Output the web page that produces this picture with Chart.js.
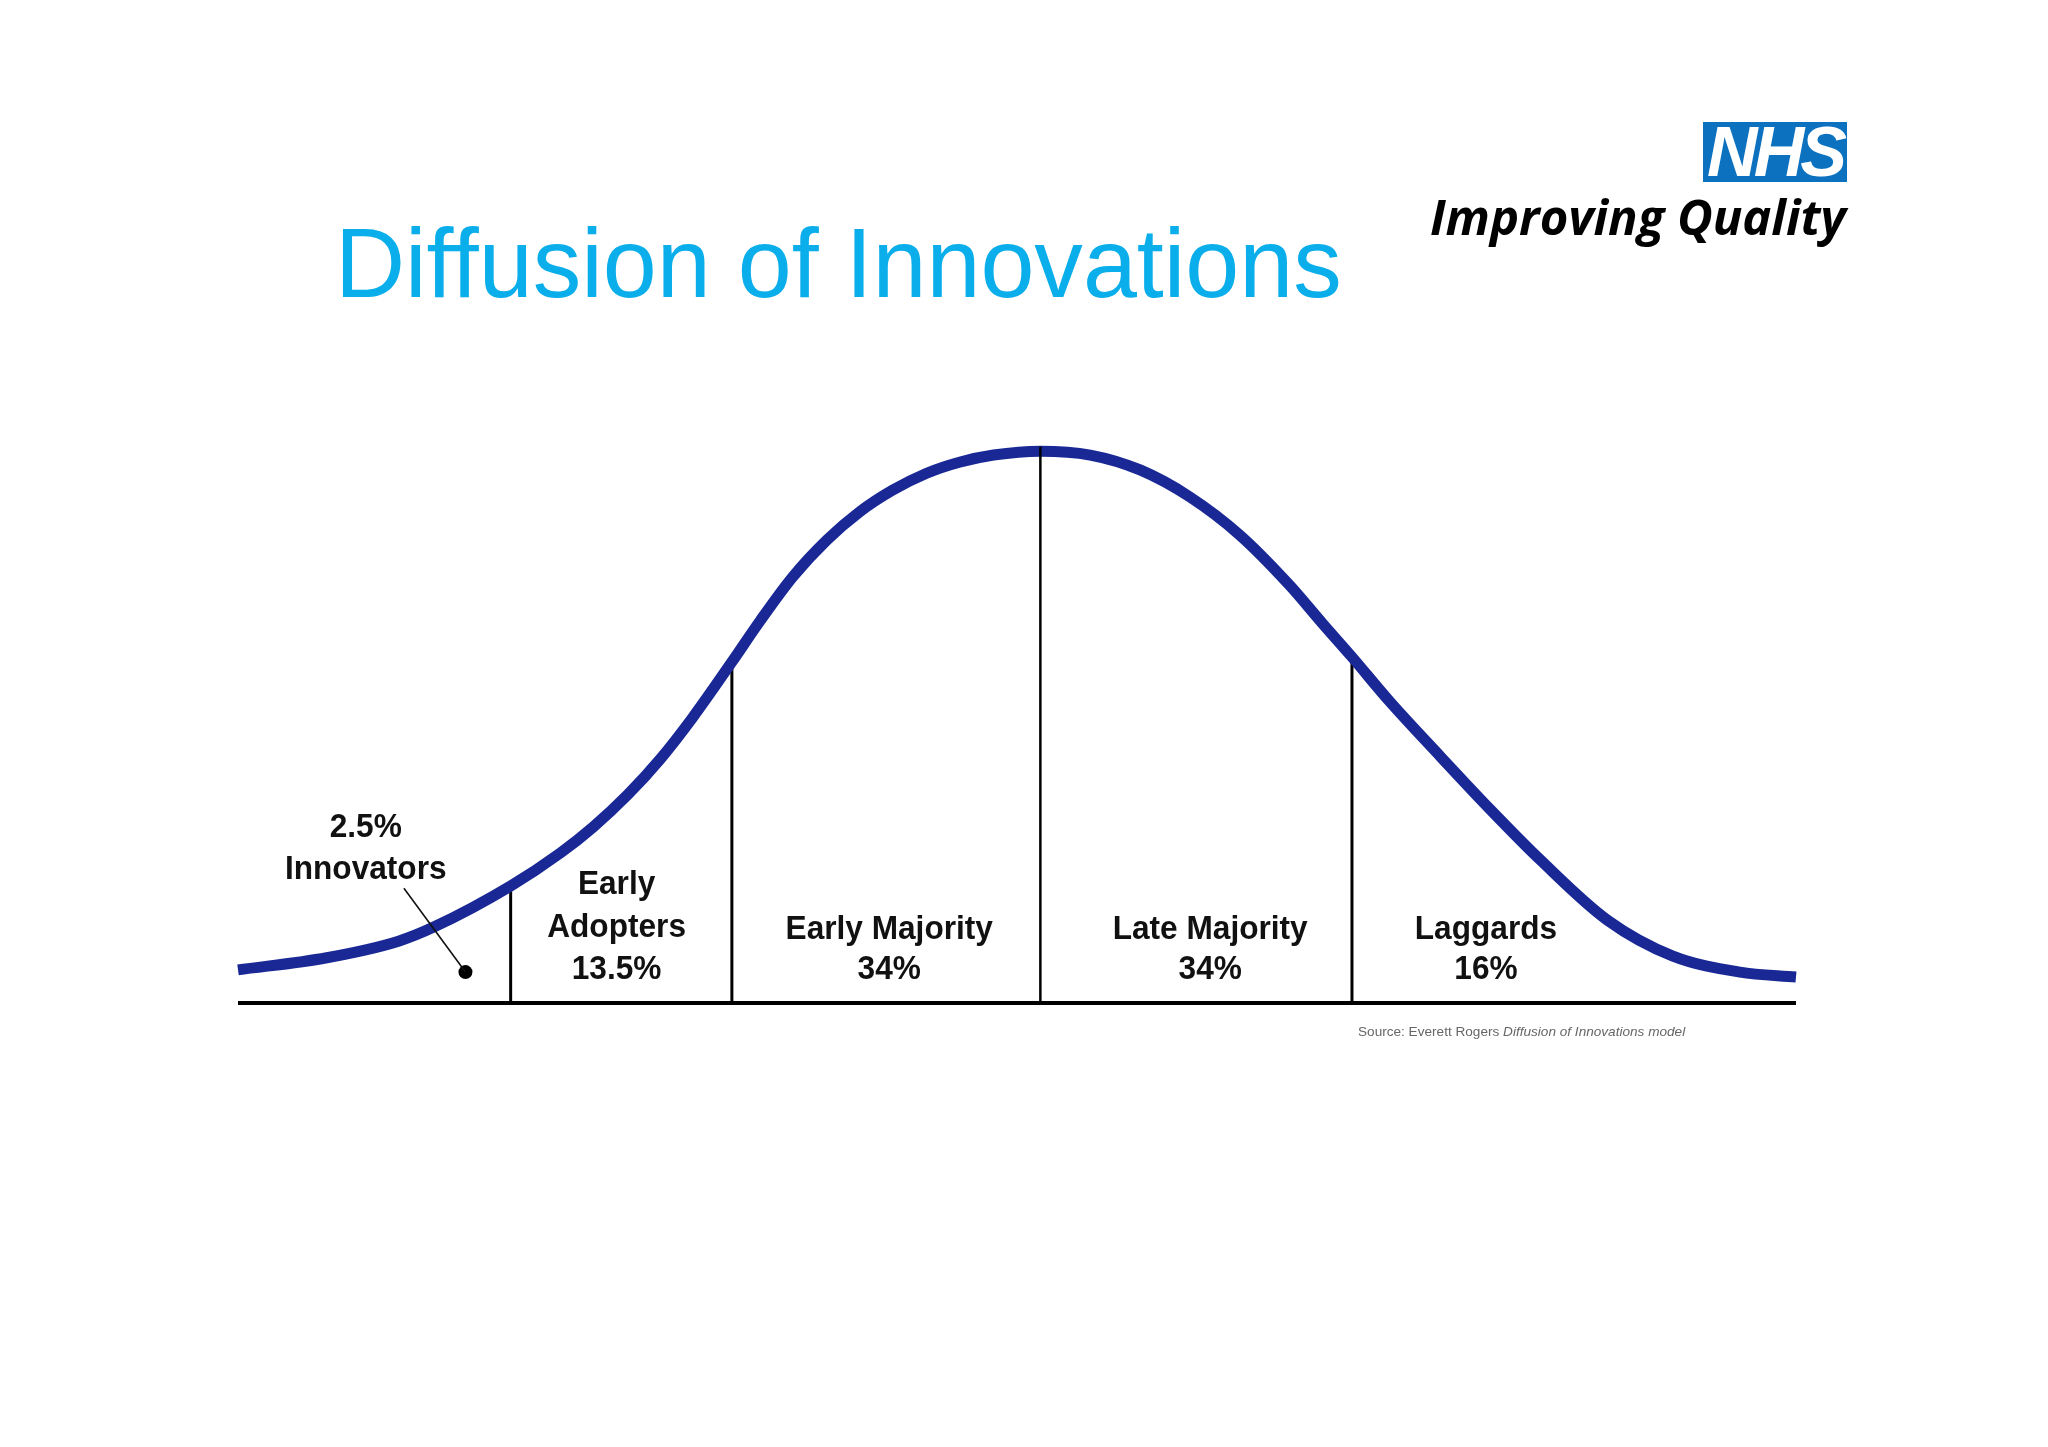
<!DOCTYPE html>
<html>
<head>
<meta charset="utf-8">
<script src="https://cdn.jsdelivr.net/npm/chart.js@4.4.1/dist/chart.umd.min.js"></script>
<style>
  html, body { margin: 0; padding: 0; background: #ffffff; }
  body { width: 2048px; height: 1447px; position: relative; overflow: hidden; }
  #chart { position: absolute; left: 0; top: 0; }
  .title { position: absolute; left: 335px; top: 213px; font-family: "Liberation Sans", Arial, sans-serif;
           font-size: 99px; line-height: 99px; color: #0AAEEA; white-space: nowrap;
           transform: scaleX(0.98); transform-origin: left top; }
  .nhs { position: absolute; left: 1703px; top: 122px; width: 144px; height: 60px; background: #0C72C0;
         color: #fff; font-family: "Liberation Sans", Arial, sans-serif; font-weight: bold; font-style: italic;
         font-size: 70px; line-height: 60px; text-align: center; letter-spacing: -4px; overflow: hidden; }
  .iq { position: absolute; right: 202px; top: 192px; font-family: "Open Sans", sans-serif; font-weight: bold;
        font-style: italic; font-size: 49px; line-height: 49px; color: #000; white-space: nowrap; }
  .src { position: absolute; left: 1358px; top: 1024px; font-family: "Liberation Sans", Arial, sans-serif;
         font-size: 13.6px; line-height: 15px; color: #666; white-space: nowrap; }
</style>
</head>
<body>
<canvas id="chart" width="2048" height="1447"></canvas>
<div class="title">Diffusion of Innovations</div>
<div class="nhs">NHS</div>
<div class="iq">Improving Quality</div>
<div class="src">Source: Everett Rogers <i>Diffusion of Innovations model</i></div>
<script>
// ---- Data ----
// Adoption curve: x = position along adoption timeline (0-100), y = relative height (peak = 100)
const curveX = [0, 5.7, 10.3, 12.6, 17.5, 20.7, 22.8, 25.0, 27.1, 29.2, 31.7, 33.5, 35.6, 37.8, 39.9, 42.0, 44.2, 46.3, 48.5, 51.5,
                54.7, 57.9, 61.1, 64.3, 67.5, 69.6, 71.5, 73.9, 77.2, 80.4, 83.6, 87.9, 92.1, 96.4, 100];
const curveY = [6.0, 8.2, 11.2, 13.8, 21.2, 27.2, 31.9, 37.7, 44.2, 51.8, 61.8, 69.2, 77.2, 83.9, 89.0, 92.9, 96.0, 98.0, 99.3, 100,
                99.3, 96.6, 91.7, 84.8, 75.7, 68.8, 62.7, 54.7, 44.6, 35.0, 25.9, 15.0, 8.5, 5.6, 4.7];

// Adopter categories and their shares (%)
const categories = ["Innovators", "Early Adopters", "Early Majority", "Late Majority", "Laggards"];
const shares = [2.5, 13.5, 34, 34, 16];

// Category boundaries on the timeline and the curve height at each boundary
const dividerX = [17.5, 31.7, 51.5, 71.5];
const dividerTop = [21.6, 61.8, 100.8, 62.5];

// Innovators pointer: dot and start of leader line
const innovatorDot = [14.6, 5.6];
const innovatorLeader = [10.65, 20.8];

const xRange = [0, 100];
const yRange = [0, 110];

// ---- Label placement (category index -> anchor on the scales) ----
const labelAnchors = [
  { x: 8.2, lines: [[shares[0] + "%", 31.7], [categories[0], 24.1]] },
  { x: 24.3, lines: [["Early", 21.4], ["Adopters", 13.6], [shares[1] + "%", 6.0]] },
  { x: 41.8, lines: [[categories[2], 13.3], [shares[2] + "%", 6.0]] },
  { x: 62.4, lines: [[categories[3], 13.3], [shares[3] + "%", 6.0]] },
  { x: 80.1, lines: [[categories[4], 13.3], [shares[4] + "%", 6.0]] }
];

const curveData = curveX.map((x, i) => ({ x: x, y: curveY[i] }));

const datasets = [];
datasets.push({
  label: "Adoption curve",
  data: curveData,
  borderColor: "#1A2896",
  borderWidth: 11,
  pointRadius: 0,
  cubicInterpolationMode: "monotone",
  showLine: true,
  fill: false,
  clip: false,
  order: 2
});
datasets.push({
  label: "Baseline",
  data: [{ x: xRange[0], y: 0 }, { x: xRange[1], y: 0 }],
  borderColor: "#000",
  borderWidth: 4,
  pointRadius: 0,
  showLine: true,
  clip: false,
  order: 1
});
dividerX.forEach((dx, i) => {
  datasets.push({
    label: "Divider " + (i + 1),
    data: [{ x: dx, y: 0 }, { x: dx, y: dividerTop[i] }],
    borderColor: "#000",
    borderWidth: i === 2 ? 2.5 : 3,
    pointRadius: 0,
    showLine: true,
    clip: false,
    order: i === 2 ? 1 : 3
  });
});
datasets.push({
  label: "Leader",
  data: [{ x: innovatorLeader[0], y: innovatorLeader[1] }, { x: innovatorDot[0], y: innovatorDot[1] }],
  borderColor: "#111",
  borderWidth: 1.6,
  pointRadius: 0,
  showLine: true,
  clip: false,
  order: 1
});
datasets.push({
  label: "Dot",
  data: [{ x: innovatorDot[0], y: innovatorDot[1] }],
  borderColor: "#000",
  backgroundColor: "#000",
  pointRadius: 7,
  pointBorderWidth: 0,
  showLine: false,
  clip: false,
  order: 1
});

const labelPlugin = {
  id: "categoryLabels",
  afterDatasetsDraw(chart) {
    const ctx = chart.ctx;
    const xs = chart.scales.x, ys = chart.scales.y;
    ctx.save();
    ctx.fillStyle = "#111";
    ctx.font = 'bold 34px "Liberation Sans", Arial, sans-serif';
    ctx.textAlign = "center";
    ctx.textBaseline = "middle";
    labelAnchors.forEach(a => {
      const px = xs.getPixelForValue(a.x);
      a.lines.forEach(([txt, yv]) => {
        const py = ys.getPixelForValue(yv);
        ctx.save();
        ctx.translate(px, py);
        ctx.scale(0.93, 1);
        ctx.fillText(txt, 0, 0);
        ctx.restore();
      });
    });
    ctx.restore();
  }
};

new Chart(document.getElementById("chart"), {
  type: "scatter",
  data: { datasets: datasets },
  options: {
    responsive: false,
    animation: false,
    devicePixelRatio: 1,
    layout: { padding: { left: 238, right: 252, top: 396, bottom: 444 } },
    plugins: { legend: { display: false }, tooltip: { enabled: false }, title: { display: false } },
    scales: {
      x: { type: "linear", min: xRange[0], max: xRange[1], display: false },
      y: { type: "linear", min: yRange[0], max: yRange[1], display: false }
    }
  },
  plugins: [labelPlugin]
});
</script>
</body>
</html>
